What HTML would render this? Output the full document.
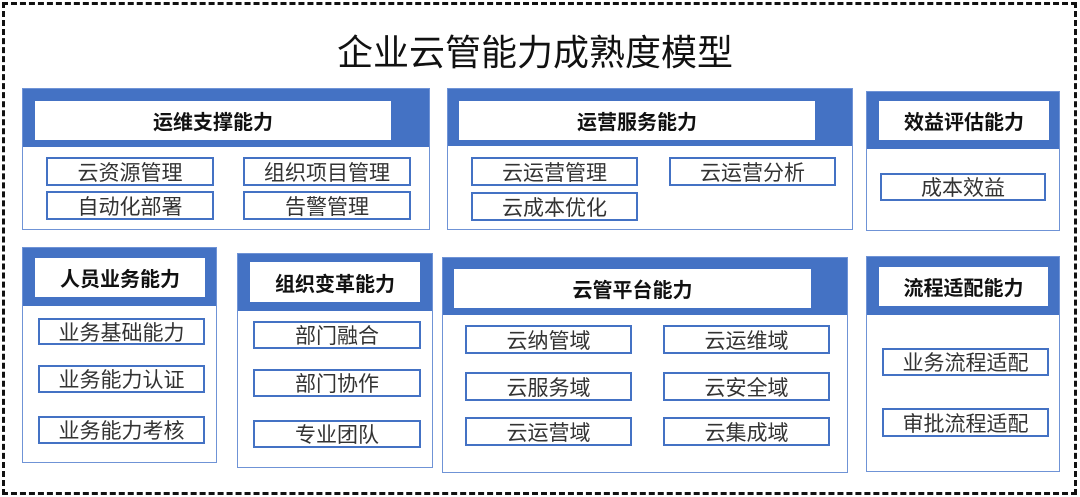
<!DOCTYPE html>
<html><head><meta charset="utf-8"><style>
*{margin:0;padding:0;box-sizing:border-box}
body{width:1080px;height:497px;background:#fff;position:relative;overflow:hidden;font-family:"Liberation Sans","Noto Sans CJK SC",sans-serif}
.dash{position:absolute;left:2px;top:2px;width:1075px;height:493px;border:3px dashed #111}
.main{position:absolute;left:0;width:1070px;top:24px;text-align:center;font-size:36px;color:#111}
.box{position:absolute;border:1.5px solid #6f93d6;background:#fff}
.hd{position:absolute;left:0;top:0;right:0;background:#4472c4}
.tt{position:absolute;background:#fff;display:flex;align-items:center;justify-content:center;font-weight:bold;font-size:20px;color:#111}
.it{position:absolute;border:2px solid #4472c4;background:#fff;display:flex;align-items:center;justify-content:center;font-size:21px;color:#333}
</style></head><body>
<div class="dash"></div>
<div class="main">企业云管能力成熟度模型</div>

<div class="box" style="left:22px;top:88px;width:408px;height:142px"><div class="hd" style="height:58px"></div></div>
<div class="tt" style="left:35px;top:101px;width:356px;height:39px">运维支撑能力</div>
<div class="it" style="left:46px;top:157px;width:168px;height:29px">云资源管理</div>
<div class="it" style="left:243px;top:157px;width:168px;height:29px">组织项目管理</div>
<div class="it" style="left:46px;top:191px;width:168px;height:29px">自动化部署</div>
<div class="it" style="left:243px;top:191px;width:168px;height:29px">告警管理</div>

<div class="box" style="left:447px;top:88px;width:406px;height:142px"><div class="hd" style="height:57px"></div></div>
<div class="tt" style="left:459px;top:101px;width:356px;height:39px">运营服务能力</div>
<div class="it" style="left:471px;top:157px;width:167px;height:29px">云运营管理</div>
<div class="it" style="left:669px;top:157px;width:167px;height:29px">云运营分析</div>
<div class="it" style="left:471px;top:192px;width:167px;height:29px">云成本优化</div>

<div class="box" style="left:866px;top:91px;width:194px;height:140px"><div class="hd" style="height:57px"></div></div>
<div class="tt" style="left:879px;top:101px;width:170px;height:39px">效益评估能力</div>
<div class="it" style="left:880px;top:173px;width:166px;height:28px">成本效益</div>

<div class="box" style="left:22px;top:247px;width:195px;height:216px"><div class="hd" style="height:58px"></div></div>
<div class="tt" style="left:35px;top:258px;width:170px;height:39px">人员业务能力</div>
<div class="it" style="left:38px;top:318px;width:167px;height:27px">业务基础能力</div>
<div class="it" style="left:38px;top:365px;width:167px;height:28px">业务能力认证</div>
<div class="it" style="left:38px;top:416px;width:167px;height:28px">业务能力考核</div>

<div class="box" style="left:237px;top:253px;width:196px;height:215px"><div class="hd" style="height:57px"></div></div>
<div class="tt" style="left:250px;top:262px;width:170px;height:40px">组织变革能力</div>
<div class="it" style="left:253px;top:321px;width:168px;height:28px">部门融合</div>
<div class="it" style="left:253px;top:369px;width:168px;height:28px">部门协作</div>
<div class="it" style="left:253px;top:420px;width:168px;height:28px">专业团队</div>

<div class="box" style="left:442px;top:257px;width:406px;height:216px"><div class="hd" style="height:57px"></div></div>
<div class="tt" style="left:454px;top:269px;width:357px;height:39px">云管平台能力</div>
<div class="it" style="left:465px;top:325px;width:167px;height:29px">云纳管域</div>
<div class="it" style="left:663px;top:325px;width:167px;height:29px">云运维域</div>
<div class="it" style="left:465px;top:372px;width:167px;height:29px">云服务域</div>
<div class="it" style="left:663px;top:372px;width:167px;height:29px">云安全域</div>
<div class="it" style="left:465px;top:417px;width:167px;height:29px">云运营域</div>
<div class="it" style="left:663px;top:417px;width:167px;height:29px">云集成域</div>

<div class="box" style="left:866px;top:256px;width:194px;height:216px"><div class="hd" style="height:58px"></div></div>
<div class="tt" style="left:879px;top:267px;width:169px;height:39px">流程适配能力</div>
<div class="it" style="left:882px;top:348px;width:167px;height:28px">业务流程适配</div>
<div class="it" style="left:882px;top:408px;width:167px;height:29px">审批流程适配</div>
</body></html>
